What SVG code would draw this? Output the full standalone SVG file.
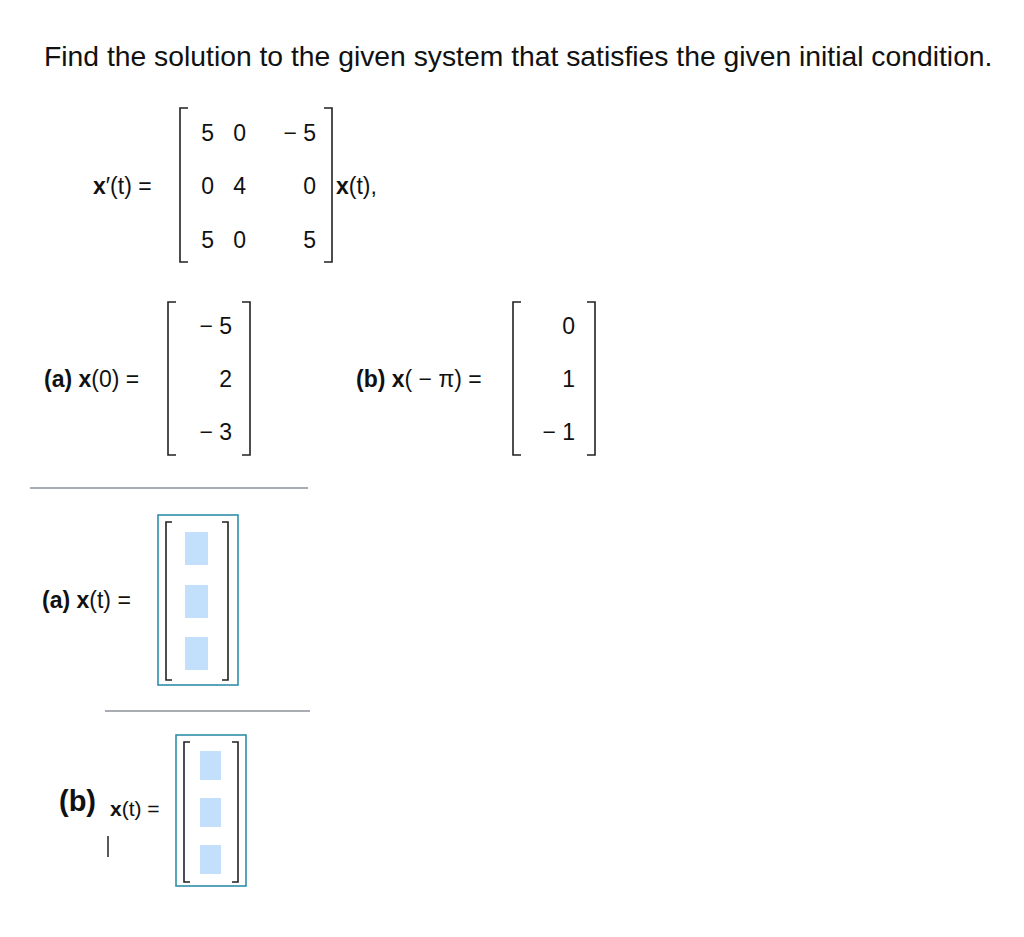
<svg xmlns="http://www.w3.org/2000/svg" width="1024" height="937" viewBox="0 0 1024 937">
<style>
text{font-family:"Liberation Sans",Arial,sans-serif;fill:#111}
.t{font-size:23px}
.b{font-weight:bold}
.br{fill:none;stroke:#222;stroke-width:1.6}
.sq{fill:#c2e0fb}
.box{fill:none;stroke:#2f8fa8;stroke-width:1.6}
.hr{stroke:#8a929a;stroke-width:1.5}
</style>
<rect width="1024" height="937" fill="#fff"/>
<text x="44" y="66" style="font-size:28.3px">Find the solution to the given system that satisfies the given initial condition.</text>
<text x="93" y="194" class="t"><tspan class="b">x</tspan>′(t) =</text>
<path class="br" d="M188 108H180V262H188M324 108H332V262H324"/>
<g class="t" text-anchor="end">
<text x="214" y="141">5</text><text x="246" y="141">0</text><text x="316" y="141">− 5</text>
<text x="214" y="194">0</text><text x="246" y="194">4</text><text x="316" y="194">0</text>
<text x="214" y="248">5</text><text x="246" y="248">0</text><text x="316" y="248">5</text>
</g>
<text x="336" y="194" class="t"><tspan class="b">x</tspan>(t),</text>
<text x="44" y="387" class="t"><tspan class="b">(a) x</tspan>(0) =</text>
<path class="br" d="M176 302H168V455H176M242 302H250V455H242"/>
<g class="t" text-anchor="end"><text x="232" y="334">− 5</text><text x="232" y="387">2</text><text x="232" y="440">− 3</text></g>
<text x="356" y="387" class="t"><tspan class="b">(b) x</tspan>( − π) =</text>
<path class="br" d="M521 302H513V455H521M587 302H595V455H587"/>
<g class="t" text-anchor="end"><text x="575" y="334">0</text><text x="575" y="387">1</text><text x="575" y="440">− 1</text></g>
<line class="hr" x1="30" y1="488" x2="308" y2="488"/>
<text x="42" y="608" class="t"><tspan class="b">(a) x</tspan>(t) =</text>
<rect class="box" x="158" y="515" width="80" height="170"/>
<path class="br" d="M172 522H166V680H172M222 522H228V680H222"/>
<rect class="sq" x="185" y="532" width="23" height="33"/><rect class="sq" x="185" y="585" width="23" height="33"/><rect class="sq" x="185" y="637" width="23" height="33"/>
<line class="hr" x1="105" y1="711" x2="310" y2="711"/>
<text x="59" y="811" class="b" style="font-size:29px">(b)</text>
<text x="110" y="816" style="font-size:21px"><tspan class="b">x</tspan>(t) =</text>
<line x1="108" y1="836" x2="108" y2="857" stroke="#222" stroke-width="1.5"/>
<rect class="box" x="176" y="735" width="70" height="151"/>
<path class="br" d="M190 742H184V882H190M232 742H238V882H232"/>
<rect class="sq" x="200" y="751" width="21" height="29"/><rect class="sq" x="200" y="798" width="21" height="29"/><rect class="sq" x="200" y="845" width="21" height="29"/>
</svg>
